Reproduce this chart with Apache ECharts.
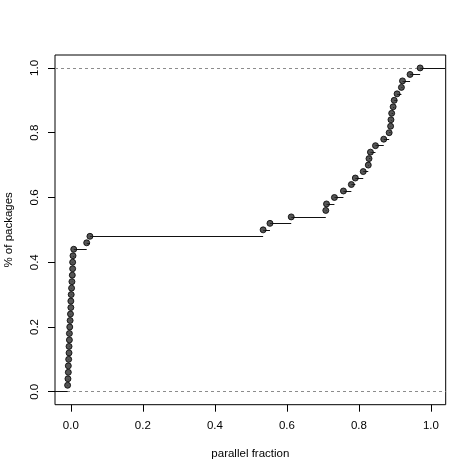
<!DOCTYPE html>
<html>
<head>
<meta charset="utf-8">
<script src="https://cdn.jsdelivr.net/npm/echarts@6/dist/echarts.min.js"></script>
<style>
html, body { margin: 0; padding: 0; background: #fff; }
#ecdf_chart { width: 474px; height: 474px; }
</style>
</head>
<body>
<div id="ecdf_chart"></div>
<script>
// parallel fraction of each package, sorted
var fractions = [
	-0.009, -0.008, -0.007, -0.007, -0.006, -0.005, -0.005, -0.004, -0.004, -0.003,
	-0.002, -0.001, 0.000, 0.000, 0.001, 0.002, 0.003, 0.004, 0.005, 0.005,
	0.006, 0.008, 0.044, 0.053,
	0.534, 0.553, 0.612, 0.708, 0.710, 0.732, 0.757, 0.779, 0.790, 0.812,
	0.826, 0.828, 0.832, 0.846, 0.869, 0.884, 0.888, 0.889, 0.891, 0.895,
	0.898, 0.906, 0.918, 0.921, 0.942, 0.970
];
// cumulative share of packages at each point
var cumShare = [
	0.02, 0.04, 0.06, 0.08, 0.10, 0.12, 0.14, 0.16, 0.18, 0.20,
	0.22, 0.24, 0.26, 0.28, 0.30, 0.32, 0.34, 0.36, 0.38, 0.40,
	0.42, 0.44, 0.46, 0.48,
	0.50, 0.52, 0.54, 0.56, 0.58, 0.60, 0.62, 0.64, 0.66, 0.68,
	0.70, 0.72, 0.74, 0.76, 0.78, 0.80, 0.82, 0.84, 0.86, 0.88,
	0.90, 0.92, 0.94, 0.96, 0.98, 1.00
];
var xTicks = [0, 0.2, 0.4, 0.6, 0.8, 1.0];
var yTicks = [0, 0.2, 0.4, 0.6, 0.8, 1.0];
var refLevels = [0, 1];

var xMin = -0.044, xMax = 1.041;
var yMin = -0.04, yMax = 1.04;

var font = '"Liberation Sans", Arial, sans-serif';

// horizontal steps of the ecdf
var steps = [{ coords: [[xMin, 0], [fractions[0], 0]] }];
for (var i = 0; i < fractions.length; i++) {
	var end = i + 1 < fractions.length ? fractions[i + 1] : xMax;
	steps.push({ coords: [[fractions[i], cumShare[i]], [end, cumShare[i]]] });
}

var points = fractions.map(function(x, i) {
	return [x, cumShare[i]];
});

var refLines = refLevels.map(function(y) {
	return { coords: [[xMin, y], [xMax, y]] };
});

var chart = echarts.init(document.getElementById('ecdf_chart'), null, { renderer: 'canvas' });

var option = {
	backgroundColor: '#fff',
	animation: false,
	textStyle: { fontFamily: font },
	grid: {
		left: 55, top: 55, right: 28.3, bottom: 69.3,
		containLabel: false,
		outerBoundsMode: 'none',
		show: true, borderColor: '#000', borderWidth: 1,
		backgroundColor: 'transparent'
	},
	xAxis: {
		type: 'value',
		min: xMin, max: xMax,
		name: 'parallel fraction',
		nameLocation: 'middle',
		nameGap: 43,
		nameTextStyle: { fontSize: 11.5, color: '#000', fontFamily: font },
		axisLine: { show: false, onZero: false },
		axisTick: { show: true, inside: false, length: 7, customValues: xTicks, lineStyle: { color: '#000', width: 1 } },
		axisLabel: {
			customValues: xTicks, fontSize: 11.5, color: '#000', margin: 15,
			formatter: function(v) { return v.toFixed(1); }
		},
		splitLine: { show: false }
	},
	yAxis: {
		type: 'value',
		min: yMin, max: yMax,
		name: '% of packages',
		nameLocation: 'middle',
		nameGap: 40,
		nameRotate: 90,
		nameTextStyle: { fontSize: 11.5, color: '#000', fontFamily: font },
		axisLine: { show: false, onZero: false },
		axisTick: { show: true, inside: false, length: 7, customValues: yTicks, lineStyle: { color: '#000', width: 1 } },
		axisLabel: {
			customValues: yTicks, fontSize: 11.5, color: '#000', margin: 14, rotate: 90,
			formatter: function(v) { return v.toFixed(1); }
		},
		splitLine: { show: false }
	},
	series: [{
		name: 'ref',
		type: 'lines',
		coordinateSystem: 'cartesian2d',
		polyline: false,
		silent: true,
		lineStyle: { color: '#8c8c8c', width: 1, type: [3, 3], opacity: 1 },
		data: refLines
	}, {
		name: 'steps',
		type: 'lines',
		coordinateSystem: 'cartesian2d',
		polyline: false,
		silent: true,
		lineStyle: { color: '#111', width: 1, opacity: 1 },
		data: steps
	}, {
		name: 'points',
		type: 'scatter',
		symbol: 'circle',
		symbolSize: 6,
		itemStyle: { color: '#2a2a2a', borderColor: '#000', borderWidth: 1 },
		data: points
	}]
};
chart.setOption(option);
</script>
</body>
</html>
